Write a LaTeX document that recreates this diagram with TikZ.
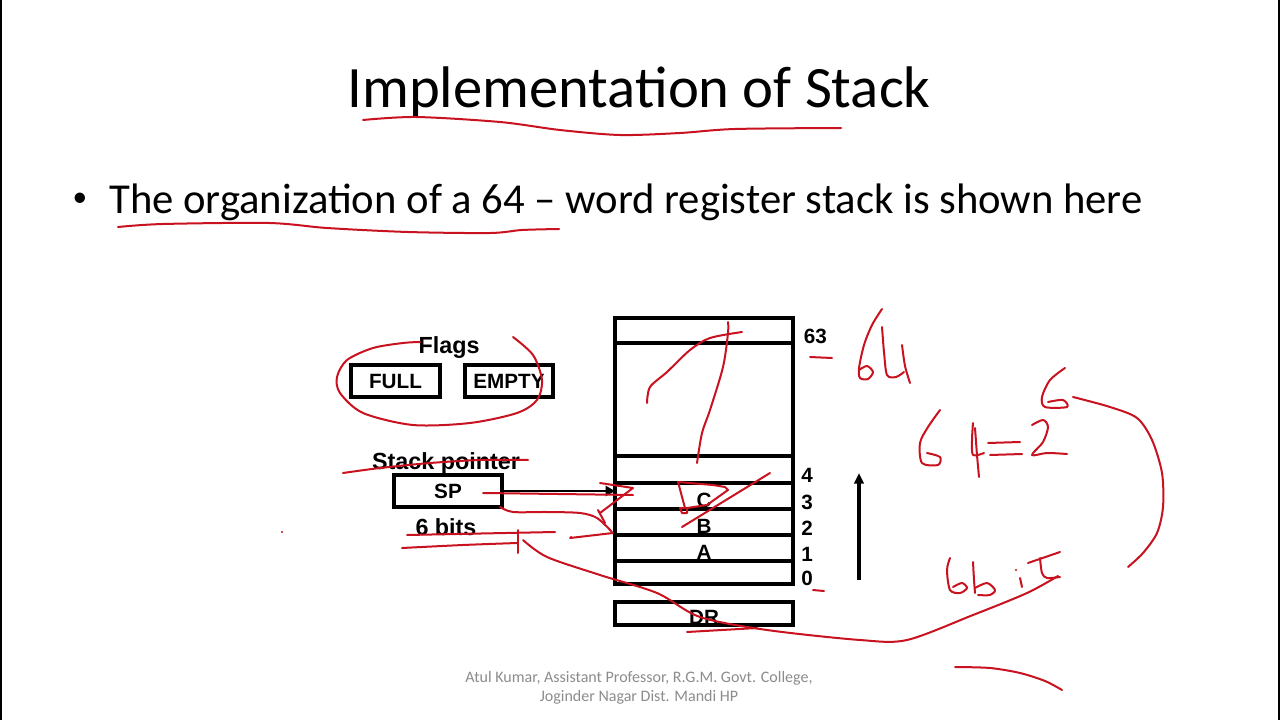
\documentclass[tikz,border=0pt]{standalone}
\usepackage{fontspec}
\setmainfont{Carlito}
\newfontfamily\figfont{Liberation Sans}
\usetikzlibrary{arrows.meta,positioning}
\definecolor{ink}{RGB}{200,18,32}
\definecolor{footgray}{RGB}{140,140,140}

\begin{document}
\begin{tikzpicture}[
  x=0.75pt,y=-0.75pt,
  box/.style={draw,line width=2.8pt,inner sep=0pt,outer sep=0pt,font=\figfont\bfseries\fontsize{15.5}{16}\selectfont},
  cell/.style={box,minimum width=133.5pt,text height=17pt,text depth=0pt},
  flag/.style={box,minimum height=24pt},
  idx/.style={inner sep=0pt,font=\figfont\bfseries\fontsize{15.5}{16}\selectfont},
  caption/.style={inner sep=0pt,font=\figfont\bfseries\fontsize{17.5}{18}\selectfont},
  push/.style={-{Triangle[length=7pt,width=7.5pt]},line width=2pt},
  pen/.style={draw=ink,line width=1.5pt,line cap=round,line join=round},
]
\useasboundingbox[fill=white] (0,0) rectangle (1280,720);
\fill (0,0) rectangle (2,720);
\fill (1278,0) rectangle (1280,720);
\node[anchor=base,font=\fontsize{44}{48}\selectfont] (title) at (639,108) {Implementation of Stack};
\node[anchor=base,font=\fontsize{22}{24}\selectfont] (dot) at (80,207) {•};
\node[anchor=base west,inner sep=0pt,font=\fontsize{32}{36}\selectfont] (point) at (109,214)
  {The organization of a 64 – word register stack is shown here};
% flags and stack pointer
\node[caption] (flags) at (449,348) {Flags};
\node[flag,minimum width=66.75pt] (full) at (395.5,381) {FULL};
\node[flag,minimum width=66pt] (empty) at (509,381) {EMPTY};
\node[caption] (sptitle) at (446,463) {Stack pointer};
\node[flag,minimum width=81pt] (sp) at (448,491) {SP};
\node[caption] (bits) at (446,527) {6 bits};
% the register stack
\node[cell,minimum height=18.75pt] (r63) at (704,330.5) {};
\node[cell,minimum height=84.75pt] (rgap) at (704,399.5) {};
\node[cell,minimum height=20.25pt] (r4) at (704,469.5) {};
\node[cell,minimum height=19.5pt] (r3) at (704,496) {C};
\node[cell,minimum height=19.5pt] (r2) at (704,522) {B};
\node[cell,minimum height=19.5pt] (r1) at (704,548) {A};
\node[cell,minimum height=17.25pt] (r0) at (704,572.5) {};
\node[cell,minimum height=17.25pt] (dr) at (704,613.5) {DR};
\node[idx,right=8pt of r63,yshift=-4.5pt] (l63) {63};
\foreach \t in {4,3,2,1,0}{\node[idx,right=6pt of r\t,yshift=-4.5pt] (l\t) {\t};}
\draw[push] (sp.east) -- (sp.east -| r3.west);
\coordinate (g0) at (859,580);
\coordinate (g1) at (859,473);
\draw[-{Triangle[length=8pt,width=7pt]},line width=2.6pt] (g0) -- (g1);
% footer
\node[anchor=base,text=footgray,font=\fontsize{12}{14}\selectfont] (foot1) at (639,682) {Atul Kumar, Assistant Professor, R.G.M. Govt. College,};
\node[anchor=base,text=footgray,font=\fontsize{12}{14}\selectfont] (foot2) at (639,701) {Joginder Nagar Dist. Mandi HP};
% pen marks
\draw[pen] plot[smooth] coordinates {(363,120) (416,117) (500,122) (560,130) (620,135) (680,133) (735,129) (841,128)};
\draw[pen] plot[smooth] coordinates {(118,227) (163,224) (269,223) (327,228) (408,232) (490,233) (522,230) (559,229)};
\draw[pen] plot[smooth] coordinates {(513,337) (533,355) (542,380) (537,400) (517,413) (470,423) (413,425) (363,413) (340,393) (337,377) (347,360) (373,348) (403,343) (420,342)};
\draw[pen] plot[smooth] coordinates {(343,473) (380,468) (430,463) (480,460) (528,460)};
\draw[pen] (483,493) -- (633,495);
\draw[pen] (600,483) -- (633,488) -- (600,513);
\draw[pen] plot[smooth] coordinates {(500,507) (513,512) (547,512) (580,513) (597,518) (612,532)};
\draw[pen] (598,510) -- (605,523);
\draw[pen] (613,533) -- (570,538);
\fill[ink] (571,537) circle (1.2);
\fill[ink] (282,532) circle (1.2);
\draw[pen] (407,535) -- (555,532);
\draw[pen] plot[smooth] coordinates {(402,548) (463,545) (517,543)};
\draw[pen] (518,530) -- (518,553);
\draw[pen] plot[smooth] coordinates {(523,540) (547,557) (600,575) (657,593) (700,617) (767,630) (860,640) (907,640) (973,615) (1027,593) (1058,576)};
\draw[pen] (687,632) -- (757,628);
\draw[pen] (810,357) -- (832,358);
\draw[pen] (813,590) -- (824,591);
\draw[pen] plot[smooth] coordinates {(647,403) (650,387) (667,372) (690,350) (710,338) (742,332)};
\draw[pen] plot[smooth] coordinates {(728,322) (728,333) (723,367) (710,410) (702,433) (697,463)};
\draw[pen] (678,482) -- (685,508) -- (680,508) -- (682,513) -- (687,513) -- (687,508) -- (707,505) -- (728,490) -- (725,487) -- (713,485) -- (678,482);
\draw[pen] (682,527) -- (770,473);
% 64
\draw[pen] plot[smooth] coordinates {(882,309) (872,325) (864,345) (859,368) (860,378) (868,379) (873,372) (867,366) (859,370)};
\draw[pen] plot[smooth] coordinates {(882,327) (884,352) (887,375) (896,377) (904,372)};
\draw[pen] plot[smooth] coordinates {(902,345) (905,366) (910,383)};
% 64 = 2^6
\draw[pen] plot[smooth] coordinates {(940,410) (928,427) (920,443) (922,463) (938,465) (940,457) (927,453)};
\draw[pen] plot[smooth] coordinates {(973,423) (972,440) (973,455) (984,453)};
\draw[pen] plot[smooth] coordinates {(975,428) (977,455) (979,477)};
\draw[pen] (988,443) -- (1020,442);
\draw[pen] (990,455) -- (1022,454);
\draw[pen] plot[smooth] coordinates {(1032,425) (1043,420) (1048,427) (1043,442) (1032,455) (1047,453) (1067,454)};
\draw[pen] plot[smooth] coordinates {(1065,368) (1050,380) (1042,397) (1045,407) (1067,407) (1063,400) (1048,402)};
\draw[pen] plot[smooth] coordinates {(1073,397) (1110,407) (1137,418) (1152,440) (1162,473) (1163,507) (1157,533) (1143,553) (1128,567)};
% 6bit
\draw[pen] plot[smooth] coordinates {(950,558) (947,570) (950,590) (960,593) (967,588) (962,583) (953,587)};
\draw[pen] plot[smooth] coordinates {(973,562) (974,580) (975,593)};
\draw[pen] plot[smooth] coordinates {(975,588) (987,583) (995,590) (990,595) (978,595)};
\draw[pen] (1020,578) -- (1022,587);
\fill[ink] (1016,570) circle (1.2);
\draw[pen] plot[smooth] coordinates {(1040,558) (1042,573) (1047,578) (1060,577)};
\draw[pen] (1028,563) -- (1060,552);
\draw[pen] plot[smooth] coordinates {(955,667) (990,668) (1020,673) (1045,681) (1062,690)};
\end{tikzpicture}
\end{document}
